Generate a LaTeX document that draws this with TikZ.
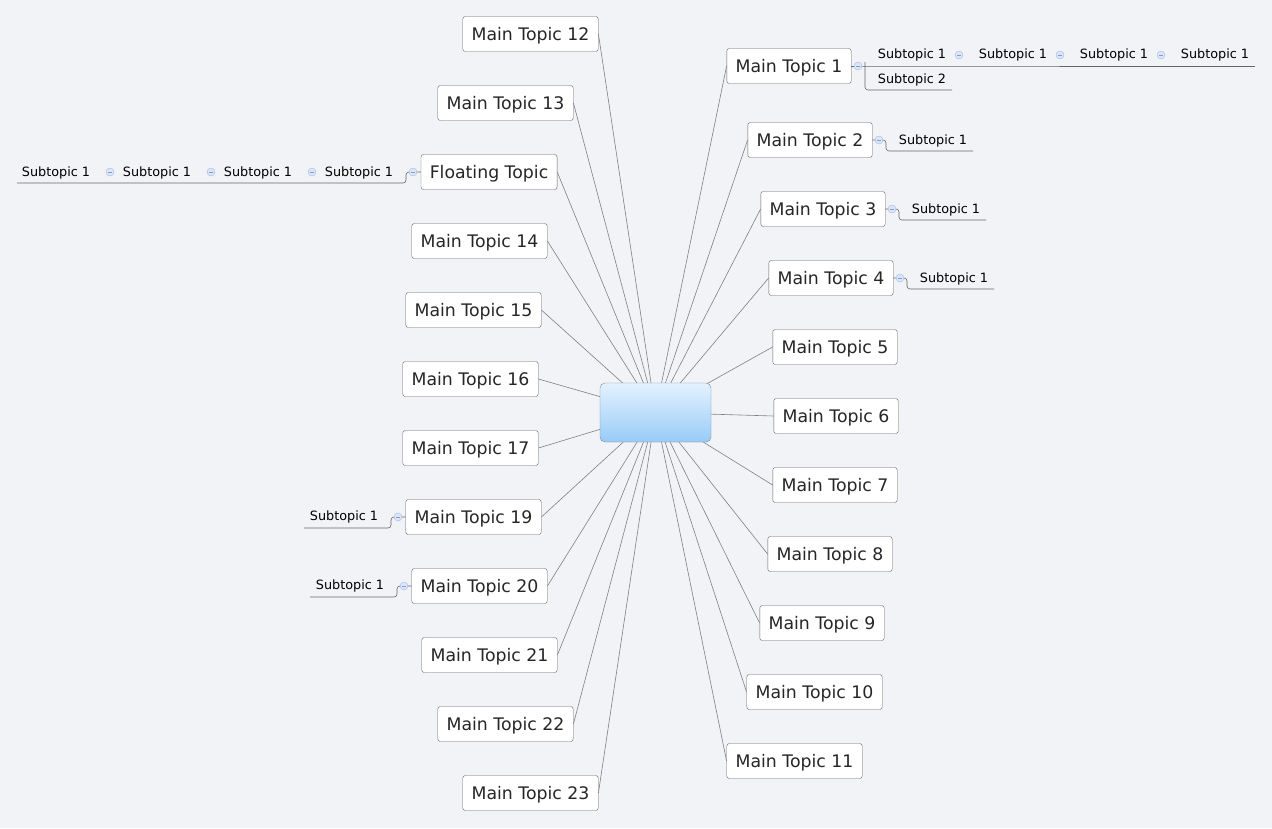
\documentclass[tikz,border=0pt]{standalone}
\usepackage{fontspec}
\setmainfont{DejaVu Sans}
\usetikzlibrary{calc}
\definecolor{minusc}{RGB}{130,155,200}
\definecolor{collb}{RGB}{160,185,225}
\definecolor{collf}{RGB}{220,230,248}
\begin{document}
\begin{tikzpicture}[x=1pt,y=-1pt,
  topic/.style={draw=black!60,fill=white,rounded corners=2.5pt,minimum height=35pt,inner xsep=8.8pt,text height=13pt,text depth=0pt,font=\fontsize{17.3}{20}\selectfont,text=black!85},
  sub/.style={inner sep=0pt,font=\fontsize{12.8}{15}\selectfont},
  conn/.style={draw=black!50,line width=0.6pt},
  brl/.style={draw=black!60,line width=0.6pt,rounded corners=3pt},
  coll/.style={circle,draw=collb,fill=collf,minimum size=8pt,inner sep=0pt,path picture={\draw[minusc,line width=0.5pt] ([xshift=-2pt]path picture bounding box.center) -- ([xshift=2pt]path picture bounding box.center);}}]
\fill[fill={rgb,255:red,242;green,243;blue,247}] (0,0) rectangle (1272,828);
\useasboundingbox (0,0) rectangle (1272,828);
\coordinate (c) at (655.5,412.5);
% topics
\foreach \n/\t/\x/\y in {r1/Main Topic 1/789/66, r2/Main Topic 2/810/140, r3/Main Topic 3/823/209, r4/Main Topic 4/831/278, r5/Main Topic 5/835/347, r6/Main Topic 6/836/416, r7/Main Topic 7/835/485, r8/Main Topic 8/830/554, r9/Main Topic 9/822/623, r10/Main Topic 10/814.5/692, r11/Main Topic 11/794.5/761}
  {\node[topic] (\n) at (\x,\y) {\t}; \draw[conn] (c) -- (\n.west);}
\foreach \n/\t/\x/\y in {l12/Main Topic 12/530.5/34, l13/Main Topic 13/505.5/103, lf/Floating Topic/489/172, l14/Main Topic 14/479.5/241, l15/Main Topic 15/473.5/310, l16/Main Topic 16/470.5/379, l17/Main Topic 17/470.5/448, l19/Main Topic 19/473.5/517, l20/Main Topic 20/479.5/586, l21/Main Topic 21/489.5/655, l22/Main Topic 22/505.5/724, l23/Main Topic 23/530.5/793}
  {\node[topic] (\n) at (\x,\y) {\t}; \draw[conn] (c) -- (\n.east);}
% central
\node[draw={rgb,255:red,110;green,140;blue,170},rounded corners=5pt,minimum width=111pt,minimum height=59pt,top color={rgb,255:red,228;green,242;blue,255},bottom color={rgb,255:red,152;green,203;blue,246}] (ctr) at (c) {};
% MT1 subtopics
\draw[brl] (r1.east) -- (865,66) -- (1255,66);
\draw[brl] (865,62) -- (865,90) -- (952,90);
\node[coll] (k1) at (858,66) {};
\node[sub] (s11) at (912,55) {Subtopic 1};
\node[sub] (s12) at (912,80) {Subtopic 2};
\foreach \i/\cx/\tx in {a/959/1013,b/1060/1114,c/1161/1215}
  {\node[coll] (k\i) at (\cx,55) {}; \node[sub] (s\i) at (\tx,55) {Subtopic 1};}
% MT2-4
\foreach \n/\cx/\y/\yl/\xe/\tx in {r2/879/140/151/973/933, r3/892/209/220/986/946, r4/900/278/289/994/954}{
  \draw[brl] (\n.east) -- (\cx+7,\y) -- (\cx+7,\yl) -- (\xe,\yl);
  \node[coll] at (\cx,\y) {};
  \node[sub] at (\tx,\y+1) {Subtopic 1};}
% Floating
\draw[brl] (lf.west) -- (406,172) -- (406,183) -- (17,183);
\node[coll] at (413,172) {};
\foreach \tx in {56,157,258,359} {\node[sub] at (\tx,173) {Subtopic 1};}
\foreach \cx in {110,211,312} {\node[coll] at (\cx,172) {};}
% MT19, MT20
\foreach \n/\cx/\y/\yl/\xe/\tx in {l19/398/517/528/304/344, l20/404/586/597/310/350}{
  \draw[brl] (\n.west) -- (\cx-7,\y) -- (\cx-7,\yl) -- (\xe,\yl);
  \node[coll] at (\cx,\y) {};
  \node[sub] at (\tx,\y) {Subtopic 1};}
\end{tikzpicture}
\end{document}
